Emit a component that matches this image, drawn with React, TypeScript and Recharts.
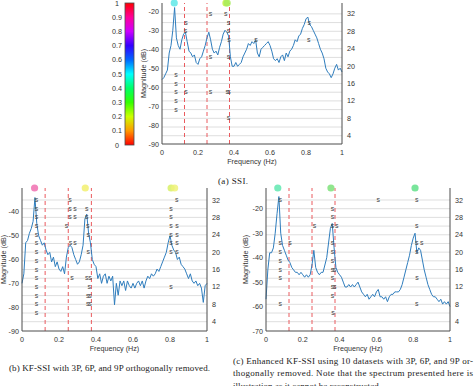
import { ComposedChart, Line, Scatter, XAxis, YAxis, ReferenceLine } from 'recharts';

// frequency grid (Hz)
const FREQ = [
  0, 0.01, 0.02, 0.03, 0.04, 0.05, 0.06, 0.07, 0.08, 0.09,
  0.1, 0.11, 0.12, 0.13, 0.14, 0.15, 0.16, 0.17, 0.18, 0.19,
  0.2, 0.21, 0.22, 0.23, 0.24, 0.25, 0.26, 0.27, 0.28, 0.29,
  0.3, 0.31, 0.32, 0.33, 0.34, 0.35, 0.36, 0.37, 0.38, 0.39,
  0.4, 0.41, 0.42, 0.43, 0.44, 0.45, 0.46, 0.47, 0.48, 0.49,
  0.5, 0.51, 0.52, 0.53, 0.54, 0.55, 0.56, 0.57, 0.58, 0.59,
  0.6, 0.61, 0.62, 0.63, 0.64, 0.65, 0.66, 0.67, 0.68, 0.69,
  0.7, 0.71, 0.72, 0.73, 0.74, 0.75, 0.76, 0.77, 0.78, 0.79,
  0.8, 0.81, 0.82, 0.83, 0.84, 0.85, 0.86, 0.87, 0.88, 0.89,
  0.9, 0.91, 0.92, 0.93, 0.94, 0.95, 0.96, 0.97, 0.98, 0.99, 1,
];

// magnitude (dB)
const SSI_MAG = [
  -56, -55, -53, -51, -42, -38, -30, -18, -34, -38,
  -40, -35, -32, -31, -36, -41, -42, -44, -43, -47,
  -48, -45, -44, -41, -38, -34, -31, -35, -40, -42,
  -41, -43, -39, -36, -32, -30, -31, -33, -44, -49,
  -49, -47, -49, -48, -47, -44, -42, -40, -37, -38,
  -36, -37, -35, -42, -44, -40, -39, -38, -37, -36,
  -38, -41, -45, -46, -45, -47, -44, -43, -46, -42,
  -44, -41, -40, -38, -35, -36, -33, -32, -29, -27,
  -24, -23, -27, -28, -30, -32, -34, -37, -40, -42,
  -45, -50, -52, -53, -55, -53, -50, -48, -51, -50, -52,
];

const KF_MAG = [
  -70, -66, -53, -52, -49, -47, -44, -34, -45, -50,
  -52, -54, -53, -56, -58, -57, -61, -59, -63, -61,
  -64, -65, -63, -66, -59, -55, -54, -55, -58, -60,
  -62, -61, -58, -54, -43, -41, -49, -53, -60, -62,
  -63, -68, -66, -70, -67, -66, -70, -67, -69, -67,
  -79, -70, -75, -69, -71, -69, -73, -69, -71, -72,
  -70, -72, -70, -69, -71, -69, -72, -69, -67, -68,
  -66, -67, -66, -64, -65, -63, -61, -59, -57, -53,
  -50, -54, -56, -57, -60, -59, -62, -63, -64, -66,
  -68, -66, -69, -70, -69, -71, -70, -72, -78, -71, -70,
];

const EKF_MAG = [
  -57, -45, -38, -38, -36, -30, -22, -15, -30, -35,
  -37, -39, -41, -42, -44, -45, -46, -46, -47, -46,
  -47, -48, -47, -48, -47, -43, -37, -44, -46, -47,
  -46, -46, -43, -40, -34, -28, -26, -36, -44, -46,
  -47, -48, -50, -52, -52, -51, -52, -51, -52, -51,
  -50, -52, -54, -55, -56, -55, -57, -56, -55, -56,
  -54, -53, -56, -56, -57, -56, -58, -56, -55, -55,
  -54, -54, -54, -53, -51, -48, -45, -42, -39, -35,
  -32, -30, -38, -36, -37, -41, -45, -48, -51, -53,
  -55, -56, -56, -57, -58, -57, -59, -58, -59, -58, -60,
];

// stable poles: [frequency, model order]
const SSI_STABLE: [number, number][] = [
  [0.078, 18], [0.078, 16], [0.078, 14], [0.078, 12], [0.078, 10],
  [0.133, 30], [0.13, 28], [0.133, 14],
  [0.27, 32], [0.27, 22], [0.27, 14],
  [0.354, 32], [0.37, 30], [0.37, 28], [0.372, 26], [0.37, 22], [0.362, 14], [0.372, 14], [0.37, 8],
  [0.522, 26], [0.818, 30], [0.815, 26],
];

const KF_STABLE: [number, number][] = [
  [0.079, 32], [0.079, 30], [0.079, 28], [0.079, 26], [0.079, 24], [0.079, 22], [0.079, 20],
  [0.079, 18], [0.079, 16], [0.079, 14], [0.079, 12], [0.079, 10], [0.079, 8], [0.079, 6],
  [0.26, 32], [0.26, 30], [0.287, 30], [0.26, 28], [0.287, 28], [0.24, 26], [0.262, 22], [0.287, 22], [0.27, 14],
  [0.35, 30], [0.35, 28], [0.355, 26], [0.358, 24], [0.358, 20], [0.35, 14], [0.368, 14],
  [0.364, 12], [0.355, 10], [0.368, 10], [0.355, 8], [0.368, 8],
  [0.836, 32], [0.806, 30], [0.806, 28], [0.806, 26], [0.838, 26], [0.806, 24], [0.838, 24],
  [0.806, 22], [0.838, 22], [0.806, 20], [0.838, 20], [0.806, 12],
];

const EKF_STABLE: [number, number][] = [
  [0.078, 32], [0.078, 22], [0.078, 20], [0.078, 18], [0.078, 16], [0.078, 14], [0.078, 8],
  [0.13, 22], [0.263, 26],
  [0.362, 30], [0.362, 28], [0.362, 26], [0.384, 26], [0.362, 22], [0.362, 20], [0.362, 18],
  [0.362, 16], [0.372, 16], [0.362, 14], [0.362, 12], [0.374, 12], [0.362, 10], [0.364, 6],
  [0.61, 32], [0.819, 32], [0.819, 26], [0.819, 22], [0.846, 22], [0.819, 20], [0.821, 14], [0.819, 8],
];

// identified modes shown at the top, coloured by the colour bar
const SSI_POLES = [
  { f: 0.068, c: '#5de8e8' },
  { f: 0.355, c: '#c8f046' },
  { f: 0.362, c: '#a8ec5c' },
];
const KF_POLES = [
  { f: 0.068, c: '#f070b0' },
  { f: 0.342, c: '#f2f070' },
  { f: 0.806, c: '#d8f066' },
  { f: 0.825, c: '#eef27a' },
];
const EKF_POLES = [
  { f: 0.064, c: '#60e8b0' },
  { f: 0.353, c: '#7ee27a' },
  { f: 0.81, c: '#62e08a' },
];

const HARMONICS = [0.125, 0.25, 0.375];
const ORDER_TICKS = [4, 6, 8, 10, 12, 14, 16, 18, 20, 22, 24, 26, 28, 30, 32];
const FREQ_TICKS = [0, 0.2, 0.4, 0.6, 0.8, 1];
const COLORBAR_TICKS = [0, 0.1, 0.2, 0.3, 0.4, 0.5, 0.6, 0.7, 0.8, 0.9, 1];

const SANS = 'Liberation Sans, Arial, sans-serif';
const SERIF = 'Liberation Serif, Times New Roman, serif';
const TICK = { fontSize: 7.2, fill: '#333', fontFamily: SANS };
const AXIS = '#4d4d4d';
const TOP = 8; // chart margin above the plot box, room for the mode dots

const SMark = (p: any) => (
  <text x={p.cx} y={p.cy} dy={2} textAnchor="middle" fontSize={7} fill="#444" fontFamily={SANS}>s</text>
);

const Dot = (p: any) => <circle cx={p.cx} cy={p.cy} r={3.6} fill={p.payload.c} fillOpacity={0.85} />;

function Panel({ plotLeft, plotTop, leftW, plotW, plotH, rightW, mag, stable, poles, dbDomain, dbTicks, ordDomain, labelX }: {
  plotLeft: number; plotTop: number; leftW: number; plotW: number; plotH: number; rightW: number;
  mag: number[]; stable: [number, number][]; poles: { f: number; c: string }[];
  dbDomain: [number, number]; dbTicks: number[]; ordDomain: [number, number]; labelX: number;
}) {
  const spectrum = FREQ.map((f, i) => ({ f, db: mag[i] }));
  const marks = stable.map(([f, order]) => ({ f, order }));
  const dots = poles.map(p => ({ f: p.f, order: ordDomain[1], c: p.c }));
  const left = plotLeft - leftW;
  const width = leftW + plotW + rightW;
  const height = TOP + plotH + 26;
  return (
    <div style={{ position: 'absolute', left, top: plotTop - TOP }}>
      <ComposedChart width={width} height={height} margin={{ top: TOP, right: 0, bottom: 0, left: 0 }}>
        <XAxis dataKey="f" type="number" domain={[0, 1]} ticks={FREQ_TICKS}
          tickFormatter={(v: number) => String(v)} tick={TICK} tickLine={false} tickSize={0} tickMargin={6}
          stroke={AXIS} height={26}
          label={{ value: 'Frequency (Hz)', position: 'insideBottom', offset: 6, style: { fontSize: 7.2, fill: '#333', fontFamily: SANS } }} />
        <XAxis xAxisId="top" orientation="top" type="number" domain={[0, 1]} tick={false} tickLine={false} stroke={AXIS} height={0} />
        <YAxis yAxisId="l" type="number" domain={dbDomain} ticks={dbTicks} width={leftW}
          tick={TICK} tickLine={false} tickSize={0} tickMargin={3} stroke={AXIS}
          label={{ value: 'Magnitude (dB)', angle: -90, position: 'insideLeft', offset: labelX - left, style: { textAnchor: 'middle', fontSize: 7.2, fill: '#333', fontFamily: SANS } }} />
        <YAxis yAxisId="r" dataKey="order" orientation="right" type="number" domain={ordDomain} ticks={ORDER_TICKS}
          width={rightW} tick={{ ...TICK, textAnchor: 'start' }} tickLine={false} tickSize={0} tickMargin={5} stroke={AXIS} />
        {ORDER_TICKS.map(v => (
          <ReferenceLine key={v} yAxisId="r" y={v} stroke="#dedede" strokeWidth={1} />
        ))}
        {HARMONICS.map(h => (
          <ReferenceLine key={h} yAxisId="l" x={h} stroke="#ea5a5e" strokeDasharray="4 3" strokeWidth={1} />
        ))}
        <Line data={spectrum} dataKey="db" yAxisId="l" stroke="#2f7dbd" strokeWidth={1} dot={false} isAnimationActive={false} type="linear" />
        <Scatter data={marks} dataKey="order" yAxisId="r" shape={SMark} isAnimationActive={false} />
        <Scatter data={dots} dataKey="order" yAxisId="r" shape={Dot} isAnimationActive={false} />
      </ComposedChart>
    </div>
  );
}

function hsvStop(v: number) {
  return `hsl(${Math.round(v * 360)}, 100%, 50%)`;
}

export default function App() {
  return (
    <div style={{ position: 'absolute', left: 0, top: 0, width: 474, height: 386, overflow: 'hidden', background: '#fff' }}>
      <Panel plotLeft={162} plotTop={3} leftW={22} plotW={180} plotH={141} rightW={28} mag={SSI_MAG} stable={SSI_STABLE} poles={SSI_POLES}
        dbDomain={[-90, -15.6]} dbTicks={[-90, -80, -70, -60, -50, -40, -30, -20]} ordDomain={[2.1, 34.5]} labelX={143} />
      <Panel plotLeft={22} plotTop={188} leftW={22} plotW={185} plotH={143} rightW={28} mag={KF_MAG} stable={KF_STABLE} poles={KF_POLES}
        dbDomain={[-90, -30]} dbTicks={[-90, -80, -70, -60, -50, -40]} ordDomain={[1.86, 34.76]} labelX={3.5} />
      <Panel plotLeft={266} plotTop={188} leftW={28} plotW={184} plotH={143} rightW={24} mag={EKF_MAG} stable={EKF_STABLE} poles={EKF_POLES}
        dbDomain={[-70, -11.5]} dbTicks={[-70, -60, -50, -40, -30, -20]} ordDomain={[1.86, 34.76]} labelX={245} />
      <svg width={474} height={386} style={{ position: 'absolute', left: 0, top: 0, pointerEvents: 'none' }}>
        <defs>
          <linearGradient id="hsvbar" x1="0" y1="1" x2="0" y2="0">
            {COLORBAR_TICKS.map(v => <stop key={v} offset={v} stopColor={hsvStop(v)} />)}
          </linearGradient>
        </defs>
        <rect x={125} y={3} width={9} height={142} fill="url(#hsvbar)" stroke={AXIS} strokeWidth={0.8} />
        {COLORBAR_TICKS.map(v => (
          <text key={v} x={117} y={145 - v * 142} dy={2.5} textAnchor="middle" fontSize={7.2} fill="#333" fontFamily={SANS}>{String(v)}</text>
        ))}
        <text x={218} y={184} fontSize={9} fill="#222" fontFamily={SERIF} textLength={30} lengthAdjust="spacing">(a) SSI.</text>
        <text x={9} y={370.5} fontSize={9} fill="#222" fontFamily={SERIF} textLength={201} lengthAdjust="spacing">(b) KF-SSI with 3P, 6P, and 9P orthogonally removed.</text>
        <text x={233} y={364} fontSize={9} fill="#222" fontFamily={SERIF} textLength={240} lengthAdjust="spacing">(c) Enhanced KF-SSI using 10 datasets with 3P, 6P, and 9P or-</text>
        <text x={233} y={376.3} fontSize={9} fill="#222" fontFamily={SERIF} textLength={240} lengthAdjust="spacing">thogonally removed.  Note that the spectrum presented here is</text>
        <text x={233} y={388.5} fontSize={9} fill="#222" fontFamily={SERIF} textLength={148} lengthAdjust="spacing">illustration as it cannot be reconstructed.</text>
      </svg>
    </div>
  );
}
